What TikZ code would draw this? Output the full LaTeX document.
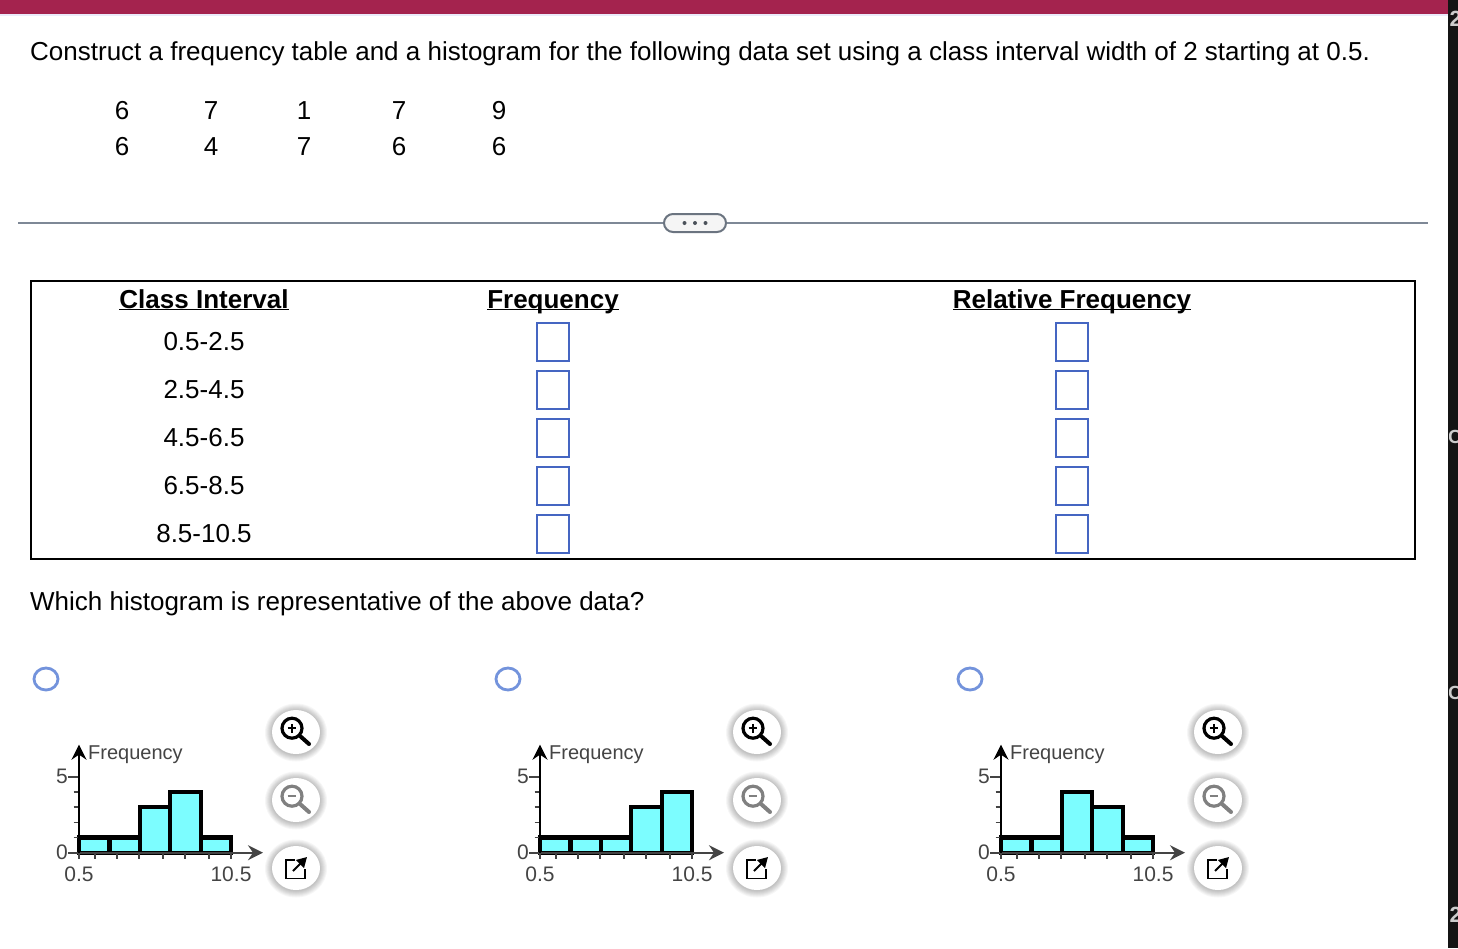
\documentclass[tikz,border=0pt]{standalone}
\usepackage{fontspec}
\setmainfont{Liberation Sans}
\usetikzlibrary{arrows.meta}
\usetikzlibrary{shapes.geometric}
\definecolor{crimson}{HTML}{A4234E}
\definecolor{barcyan}{HTML}{7CFDFF}
\definecolor{boxblue}{HTML}{4566C2}
\definecolor{radioblue}{HTML}{7393DC}
\definecolor{rulegray}{HTML}{7E8896}
\definecolor{axisgray}{HTML}{444444}
\tikzset{
  question/.style={anchor=base west, font=\fontsize{26}{30}\selectfont, inner sep=0pt},
  datum/.style={font=\fontsize{26}{30}\selectfont, inner sep=0pt},
  header/.style={anchor=base, font=\fontsize{26}{30}\selectfont\bfseries, inner sep=0pt},
  answerbox/.style={draw=boxblue, line width=1.6pt, minimum width=32pt, minimum height=38pt, inner sep=0pt},
  radio/.style={ellipse, draw=radioblue, line width=2.8pt, minimum width=24pt, minimum height=22pt, inner sep=0pt},
  axislabel/.style={text=axisgray, font=\fontsize{21}{24}\selectfont, inner sep=0pt},
  bar/.style={draw=black, fill=barcyan, line width=4.2pt, line join=miter},
  tick/.style={axisgray, line width=1.6pt},
  roundbutton/.style={ellipse, fill=white, minimum width=48pt, minimum height=44pt, inner sep=0pt},
  edgeletter/.style={text=black!20, inner sep=0pt, anchor=west},
}
\begin{document}
\begin{tikzpicture}[x=1pt, y=-1pt]
  \useasboundingbox (0,0) rectangle (1458,948);
  \fill[white] (0,0) rectangle (1458,948);

  % page furniture
  \fill[black!92] (1448,0) rectangle (1458,948);
  \fill[crimson] (0,0) rectangle (1448,14);
  \fill[black!22!blue!8!white] (0,14) rectangle (1448,15.5);
  \begin{scope}
    \clip (1449,0) rectangle (1458,948);
    \node[edgeletter, font=\fontsize{22}{26}\selectfont\bfseries] (edgetop) at (1449.5,19) {2};
    \node[edgeletter, font=\fontsize{19}{22}\selectfont\bfseries] (edgeone) at (1448,437) {C};
    \node[edgeletter, font=\fontsize{19}{22}\selectfont\bfseries] (edgetwo) at (1448,693) {C};
    \node[edgeletter, font=\fontsize{22}{26}\selectfont\bfseries] (edgelow) at (1449.5,915) {2};
  \end{scope}

  \node[question] (prompt) at (30,60) {Construct a frequency table and a histogram for the following data set using a class interval width of 2 starting at 0.5.};

  % data set
  \foreach \cx/\up/\down [count=\c] in {122/6/6, 211/7/4, 304/1/7, 399/7/6, 499/9/6} {
    \node[datum] (up\c) at (\cx,111) {\up};
    \node[datum] (down\c) at (\cx,147) {\down};
  }

  % divider
  \coordinate (divleft) at (18,223);
  \coordinate (divright) at (1428,223);
  \node[draw=rulegray!85!black, fill=black!4, line width=2pt, rounded corners=9pt, minimum width=62pt, minimum height=18pt, inner sep=0pt] (pill) at (695,223) {};
  \draw[rulegray, line width=1.6pt] (divleft) -- (pill.west);
  \draw[rulegray, line width=1.6pt] (pill.east) -- (divright);
  \foreach \dx [count=\d] in {-10.5,0,10.5}
    \fill[rulegray!60!black] (695+\dx,223) circle (2pt);

  % table
  \draw[black, line width=2pt] (31,281) rectangle (1415,559);
  \node[header] (headclass) at (204,308) {\underline{\smash{Class Interval}}};
  \node[header] (headfreq) at (553,308) {\underline{\smash{Frequency}}};
  \node[header] (headrel) at (1072,308) {\underline{\smash{Relative Frequency}}};
  \foreach \ry/\range [count=\r] in {341/0.5-2.5, 389/2.5-4.5, 437/4.5-6.5, 485/6.5-8.5, 533/8.5-10.5} {
    \node[datum] (class\r) at (204,\ry+0.5) {\range};
    \node[answerbox] (freq\r) at (553,\ry+1) {};
    \node[answerbox] (rel\r) at (1072,\ry+1) {};
  }

  \node[question] (which) at (30,610) {Which histogram is representative of the above data?};

  % histograms
  \foreach \ox/\rx/\bars [count=\h] in {79/-33/{1,1,3,4,1}, 540/-32/{1,1,1,3,4}, 1001/-31/{1,1,4,3,1}} {
    \begin{scope}[shift={(\ox,852.7)}]
      \node[radio] (radio\h) at (\rx,-173.7) {};
      \foreach \freq [count=\k from 0] in \bars
        \draw[bar] (\k*30.4,0) rectangle (\k*30.4+30.4,-\freq*15.2);
      \foreach \ty/\tl in {0/11,1/5.5,2/5.5,3/5.5,4/5.5,5/11}
        \draw[tick] (-\tl,-\ty*15.2) -- (0,-\ty*15.2);
      \foreach \tx in {0,16,38,60,84,106,130,152}
        \draw[tick] (\tx,0) -- (\tx,6);
      \coordinate (orig\h) at (0,0);
      \coordinate (xend\h) at (184,0);
      \coordinate (yend\h) at (0,-108);
      \draw[axisgray, line width=1.6pt, -{Stealth[length=15pt, width=15pt, inset=5pt]}] (orig\h) -- (xend\h);
      \draw[black, line width=1.6pt, -{Stealth[length=15pt, width=15pt, inset=5pt]}] (orig\h) -- (yend\h);
      \node[axislabel, anchor=west, font=\fontsize{20}{24}\selectfont] (ylabel\h) at (9,-98.5) {Frequency};
      \node[axislabel, anchor=east] (five\h) at (-11,-76) {5};
      \node[axislabel, anchor=east] (zero\h) at (-11,0) {0};
      \node[axislabel] (low\h) at (0,21.5) {0.5};
      \node[axislabel] (high\h) at (152,21.5) {10.5};

      % zoom and open buttons
      \foreach \bn/\by in {zoomin/-120.7, zoomout/-52.7, popout/15.3} {
        \foreach \grow in {7,6,5,4,3,2,1}
          \fill[black, opacity=.035] (217,\by+0.5) ellipse ({24+\grow} and {22+\grow});
        \node[roundbutton] (\bn\h) at (217,\by) {};
      }
      \begin{scope}[shift={(zoomin\h.center)}]
        \draw[black, line width=3.2pt] (-4,-3.8) circle (10pt);
        \draw[black, line width=1.8pt] (-8.4,-3.8) -- (0.4,-3.8) (-4,-8.2) -- (-4,0.6);
        \draw[black, line width=4pt, line cap=round] (4.5,4.4) -- (13,12);
      \end{scope}
      \begin{scope}[shift={(zoomout\h.center)}]
        \draw[black!50, line width=3.2pt] (-4,-3.8) circle (10pt);
        \draw[black!50, line width=1.8pt] (-8.4,-3.8) -- (0.4,-3.8);
        \draw[black!50, line width=4pt, line cap=round] (4.5,4.4) -- (13,12);
      \end{scope}
      \begin{scope}[shift={(popout\h.center)}]
        \draw[black, line width=1.8pt] (-1,-8) -- (-10,-8) -- (-10,10.5) -- (9,10.5) -- (9,1);
        \draw[black, line width=2pt, -{Stealth[length=10pt, width=11pt, inset=0pt]}] (-3,3) -- (11,-11);
      \end{scope}
    \end{scope}
  }
\end{tikzpicture}
\end{document}
